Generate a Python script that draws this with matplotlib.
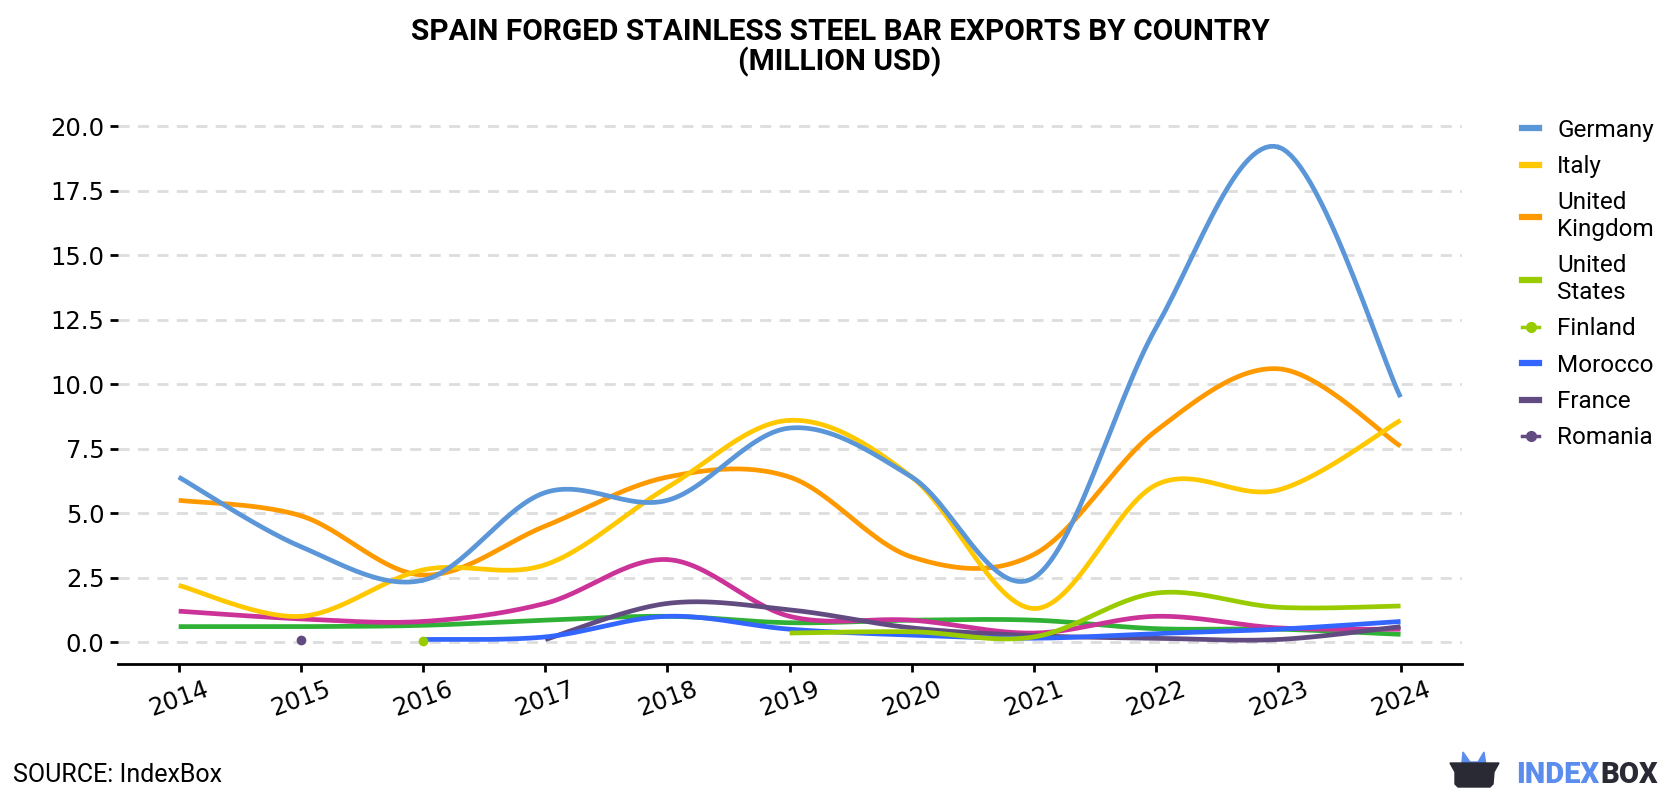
import numpy as np
import matplotlib.pyplot as plt
from matplotlib.lines import Line2D
from matplotlib.patches import Polygon

# datos (millones USD)
years = [2014, 2015, 2016, 2017, 2018, 2019, 2020, 2021, 2022, 2023, 2024]

germany = [6.4, 3.7, 2.4, 5.8, 5.5, 8.3, 6.4, 2.5, 12.2, 19.2, 9.5]
italy = [2.2, 1.0, 2.8, 3.0, 6.0, 8.6, 6.4, 1.3, 6.1, 5.9, 8.6]
uk = [5.5, 4.9, 2.6, 4.5, 6.4, 6.4, 3.3, 3.4, 8.2, 10.6, 7.6]
us_years = [2019, 2020, 2021, 2022, 2023, 2024]
us = [0.35, 0.4, 0.2, 1.9, 1.35, 1.4]
finland_years = [2016]
finland = [0.05]
morocco_years = [2016, 2017, 2018, 2019, 2020, 2021, 2022, 2023, 2024]
morocco = [0.1, 0.2, 1.0, 0.5, 0.27, 0.15, 0.33, 0.5, 0.8]
france_years = [2017, 2018, 2019, 2020, 2021, 2022, 2023, 2024]
france = [0.1, 1.5, 1.25, 0.55, 0.25, 0.15, 0.1, 0.6]
romania_years = [2015]
romania = [0.1]
magenta = [1.2, 0.9, 0.8, 1.5, 3.2, 1.0, 0.85, 0.35, 1.0, 0.55, 0.5]
green = [0.6, 0.6, 0.65, 0.85, 1.0, 0.75, 0.85, 0.85, 0.52, 0.5, 0.3]


def suavizar(xs, ys, n=30):
    # curva catmull-rom solo para dibujar
    xs = np.asarray(xs, float)
    ys = np.asarray(ys, float)
    if len(xs) < 2:
        return xs, ys
    px = np.concatenate([[xs[0]], xs, [xs[-1]]])
    py = np.concatenate([[ys[0]], ys, [ys[-1]]])
    ox, oy = [], []
    t = np.linspace(0, 1, n)
    for i in range(1, len(px) - 2):
        for arr, out in ((px, ox), (py, oy)):
            p0, p1, p2, p3 = arr[i - 1], arr[i], arr[i + 1], arr[i + 2]
            out.extend(0.5 * (2 * p1 + (-p0 + p2) * t
                              + (2 * p0 - 5 * p1 + 4 * p2 - p3) * t ** 2
                              + (-p0 + 3 * p1 - 3 * p2 + p3) * t ** 3))
    return np.array(ox), np.array(oy)


W, H = 1680, 800
fig = plt.figure(figsize=(16.8, 8), dpi=100)
ax = fig.add_axes([0.070, 0.17, 0.800, 0.701])

series = [
    (years, green, '#2eb135'),
    (years, magenta, '#cc3399'),
    (romania_years, romania, '#624b80'),
    (france_years, france, '#624b80'),
    (morocco_years, morocco, '#3366ff'),
    (finland_years, finland, '#99cc00'),
    (us_years, us, '#99cc00'),
    (years, uk, '#ff9900'),
    (years, italy, '#ffc800'),
    (years, germany, '#5a96d8'),
]
for xs, ys, c in series:
    if len(xs) == 1:
        ax.plot(xs, ys, 'o', color=c, markersize=6, zorder=3)
    else:
        sx, sy = suavizar(xs, ys)
        ax.plot(sx, sy, color=c, lw=3.4, solid_capstyle='butt', zorder=3)

ax.set_xlim(2013.5, 2024.5)
ax.set_ylim(-0.85, 20.9)
ax.set_yticks(np.arange(0, 20.1, 2.5))
ax.set_yticklabels([f'{v:.1f}' for v in np.arange(0, 20.1, 2.5)])
ax.set_xticks(years)
ax.set_xticklabels([str(y) for y in years], rotation=20)
ax.tick_params(axis='both', labelsize=17.5, width=2, length=6, color='black')
ax.grid(axis='y', color='#dddddd', linestyle=(0, (4, 3)), lw=2)
ax.set_axisbelow(True)
for s in ['left', 'right', 'top']:
    ax.spines[s].set_visible(False)
ax.spines['bottom'].set_linewidth(2)

# leyenda
handles = [
    Line2D([], [], color='#5a96d8', lw=4.5),
    Line2D([], [], color='#ffc800', lw=4.5),
    Line2D([], [], color='#ff9900', lw=4.5),
    Line2D([], [], color='#99cc00', lw=4.5),
    Line2D([], [], color='#99cc00', lw=2.5, marker='o', markersize=7),
    Line2D([], [], color='#3366ff', lw=4.5),
    Line2D([], [], color='#624b80', lw=4.5),
    Line2D([], [], color='#624b80', lw=2.5, marker='o', markersize=7),
]
labels = ['Germany', 'Italy', 'United\nKingdom', 'United\nStates', 'Finland',
          'Morocco', 'France', 'Romania']
fig.legend(handles, labels, loc='upper left', bbox_to_anchor=(0.893, 0.879),
           frameon=False, handlelength=0.7, handletextpad=0.75,
           labelspacing=0.55, prop={'family': 'Roboto', 'size': 17.5})

fig.text(0.5, 0.978, 'SPAIN FORGED STAINLESS STEEL BAR EXPORTS BY COUNTRY\n(MILLION USD)',
         ha='center', va='top', fontsize=21.5, fontweight='bold', family='Roboto',
         linespacing=1.05)
fig.text(0.008, 0.031, 'SOURCE: IndexBox', fontsize=18, family='Roboto', va='center')

# logo IndexBox
def px(pts):
    return [(x / W, 1 - y / H) for x, y in pts]

fig.patches.append(Polygon(px([(1461, 772), (1463, 752), (1470, 762), (1478, 762),
                               (1484, 752), (1487, 772)]),
                           closed=True, transform=fig.transFigure, color='#5b8def'))
fig.patches.append(Polygon(px([(1450, 763), (1499, 763), (1494, 772), (1493, 784),
                               (1490, 787), (1458, 787), (1455, 784), (1455, 772)]),
                           closed=True, transform=fig.transFigure, color='#2a2a35'))
t_index = fig.text(1516 / W, 1 - 775 / H, 'INDEX', fontsize=21, family='Roboto',
                   fontweight='black', color='#5b8def', va='center')
fig.canvas.draw()
bb = t_index.get_window_extent()
fig.text(bb.x1 / W + 0.001, 1 - 775 / H, 'BOX', fontsize=21, family='Roboto',
         fontweight='black', color='#2a2a35', va='center')

fig.savefig('out.png', dpi=100)
